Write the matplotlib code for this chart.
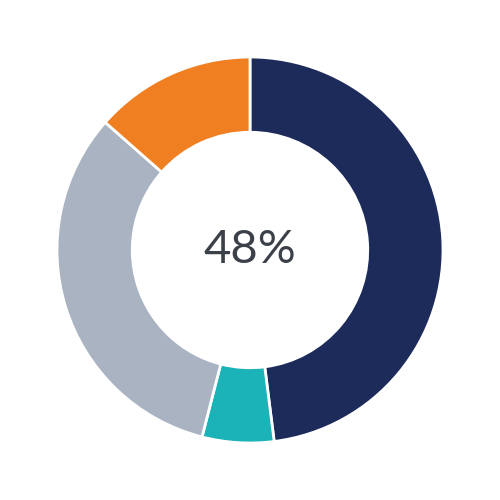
import matplotlib
matplotlib.use("Agg")
import matplotlib.pyplot as plt

labels = ["Navy", "Teal", "Gray", "Orange"]
values = [48, 6, 32.5, 13.5]
colors = ["#1c2b5a", "#1bb3b8", "#a9b3c2", "#f07f22"]
center_text = "48%"

fig = plt.figure(figsize=(5, 5), dpi=100)
ax = fig.add_axes([0, 0, 1, 1])
ax.pie(values, colors=colors, startangle=90, counterclock=False, radius=1,
       wedgeprops=dict(width=0.39, edgecolor="white", linewidth=2))
lim = 250 / 193
ax.set_xlim(-lim, lim)
ax.set_ylim(-lim, lim)
ax.set_aspect("equal")
ax.axis("off")
ax.text(0, 0.0, center_text, ha="center", va="center", fontsize=34,
        family=["Lato", "DejaVu Sans"], fontweight="normal", color="#3b4049")
fig.savefig("out.png", dpi=100)
